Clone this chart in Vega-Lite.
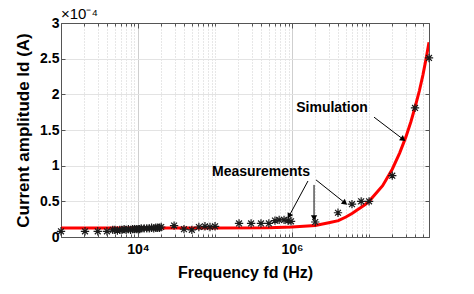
{
  "$schema": "https://vega.github.io/schema/vega-lite/v6.json",
  "width": 368,
  "height": 214,
  "autosize": {"type": "none"},
  "padding": {"left": 61, "top": 23, "right": 45, "bottom": 57},
  "background": "white",
  "title": {"text": "×10⁻⁴", "anchor": "start", "frame": "group", "fontSize": 15, "fontWeight": "normal", "font": "Liberation Sans", "offset": -6, "color": "black"},
  "config": {
    "view": {"stroke": null},
    "axis": {
      "labelFont": "Liberation Sans", "labelFontWeight": "bold", "labelFontSize": 14, "labelColor": "black",
      "titleFont": "Liberation Sans", "titleFontWeight": "bold", "titleFontSize": 16, "titleColor": "black",
      "domainColor": "#555555", "tickColor": "#555555", "labelOverlap": false, "labelBound": false, "labelFlush": false
    }
  },
  "datasets": {
    "sim": [
      {"f": 1000, "I": 1.25e-5}, {"f": 10000, "I": 1.25e-5}, {"f": 100000, "I": 1.26e-5},
      {"f": 500000, "I": 1.3e-5}, {"f": 1000000, "I": 1.4e-5}, {"f": 2000000, "I": 1.6e-5},
      {"f": 3000000, "I": 2.0e-5}, {"f": 4000000, "I": 2.3e-5}, {"f": 5000000, "I": 2.8e-5},
      {"f": 6000000, "I": 3.3e-5}, {"f": 7000000, "I": 3.8e-5}, {"f": 8000000, "I": 4.2e-5},
      {"f": 9000000, "I": 4.6e-5}, {"f": 10000000, "I": 5.0e-5}, {"f": 15000000, "I": 7.2e-5},
      {"f": 20000000, "I": 9.5e-5}, {"f": 25000000, "I": 1.18e-4}, {"f": 30000000, "I": 1.40e-4},
      {"f": 35000000, "I": 1.62e-4}, {"f": 40000000, "I": 1.84e-4}, {"f": 45000000, "I": 2.05e-4},
      {"f": 50000000, "I": 2.27e-4}, {"f": 55000000, "I": 2.5e-4}, {"f": 60000000, "I": 2.73e-4}
    ],
    "meas": [
      {"f": 1000, "I": 8e-6}, {"f": 2050, "I": 8e-6}, {"f": 3000, "I": 8e-6}, {"f": 3950, "I": 8e-6},
      {"f": 4700, "I": 1.0e-5}, {"f": 5000, "I": 1.0e-5}, {"f": 5400, "I": 9e-6}, {"f": 5800, "I": 1.0e-5},
      {"f": 6200, "I": 1.0e-5}, {"f": 6600, "I": 1.1e-5}, {"f": 7000, "I": 1.0e-5}, {"f": 7500, "I": 1.1e-5},
      {"f": 8000, "I": 1.0e-5}, {"f": 8500, "I": 1.1e-5}, {"f": 9000, "I": 1.1e-5}, {"f": 9500, "I": 1.1e-5},
      {"f": 10000, "I": 1.1e-5}, {"f": 10500, "I": 1.1e-5}, {"f": 11000, "I": 1.2e-5}, {"f": 12000, "I": 1.2e-5},
      {"f": 13000, "I": 1.2e-5}, {"f": 14000, "I": 1.2e-5}, {"f": 15000, "I": 1.3e-5}, {"f": 16000, "I": 1.2e-5},
      {"f": 17000, "I": 1.3e-5}, {"f": 18000, "I": 1.3e-5}, {"f": 19000, "I": 1.3e-5}, {"f": 20000, "I": 1.4e-5},
      {"f": 29400, "I": 1.6e-5}, {"f": 39500, "I": 1.1e-5}, {"f": 50000, "I": 1.0e-5}, {"f": 61700, "I": 1.4e-5},
      {"f": 74000, "I": 1.5e-5}, {"f": 86000, "I": 1.4e-5}, {"f": 100000, "I": 1.5e-5},
      {"f": 205000, "I": 1.9e-5}, {"f": 294000, "I": 1.9e-5}, {"f": 395000, "I": 1.9e-5}, {"f": 500000, "I": 1.9e-5},
      {"f": 600000, "I": 2.3e-5}, {"f": 680000, "I": 2.4e-5}, {"f": 787000, "I": 2.4e-5}, {"f": 887000, "I": 2.3e-5},
      {"f": 970000, "I": 2.2e-5}, {"f": 2000000, "I": 2.1e-5}, {"f": 3950000, "I": 3.4e-5}, {"f": 6000000, "I": 4.6e-5},
      {"f": 7900000, "I": 5.0e-5}, {"f": 10000000, "I": 5.0e-5}, {"f": 20000000, "I": 8.6e-5},
      {"f": 39500000, "I": 1.81e-4}, {"f": 60000000, "I": 2.51e-4}
    ],
    "labels": [
      {"label": "Simulation", "f": 3300000, "I": 1.81e-4},
      {"label": "Measurements", "f": 395000, "I": 0.91e-4}
    ],
    "arrows": [
      {"id": "sim", "f": 11600000, "I": 1.68e-4, "f2": 27700000, "I2": 1.37e-4},
      {"id": "m1", "f": 1610000, "I": 0.785e-4, "f2": 915000, "I2": 0.294e-4},
      {"id": "m2", "f": 1930000, "I": 0.73e-4, "f2": 1930000, "I2": 0.266e-4},
      {"id": "m3", "f": 2050000, "I": 0.80e-4, "f2": 4870000, "I2": 0.477e-4}
    ]
  },
  "resolve": {"axis": {"x": "independent", "y": "independent"}},
  "layer": [
    {
      "data": {"name": "sim"},
      "mark": {"type": "line", "color": "#ff0000", "strokeWidth": 3, "clip": true},
      "encoding": {
        "x": {"field": "f", "type": "quantitative",
          "scale": {"type": "log", "domain": [1000, 60000000], "nice": false},
          "axis": {
            "orient": "bottom", "title": "Frequency fd (Hz)",
            "titleX": 184, "titleAnchor": "middle", "titleAlign": "center",
            "values": [1000,2000,3000,4000,5000,6000,7000,8000,9000,10000,20000,30000,40000,50000,60000,70000,80000,90000,100000,200000,300000,400000,500000,600000,700000,800000,900000,1000000,2000000,3000000,4000000,5000000,6000000,7000000,8000000,9000000,10000000,20000000,30000000,40000000,50000000,60000000],
            "labelExpr": "datum.value == 10000 ? '10⁴' : datum.value == 1000000 ? '10⁶' : ''",
            "grid": true,
            "gridColor": "#cfcfcf",
            "gridDash": {"condition": {"test": "datum.value == 10000 || datum.value == 1000000", "value": []}, "value": [1, 2]},
            "tickSize": {"condition": {"test": "datum.value == 10000 || datum.value == 1000000", "value": -5}, "value": -3},
            "labelPadding": 10,
            "titlePadding": 6
          }
        },
        "y": {"field": "I", "type": "quantitative",
          "scale": {"domain": [0, 0.0003], "nice": false},
          "axis": {
            "orient": "left", "title": "Current amplitude Id (A)",
            "titleFontSize": 17,
            "values": [0, 0.00005, 0.0001, 0.00015, 0.0002, 0.00025, 0.0003],
            "labelExpr": "format(datum.value * 10000, '.1~f')",
            "grid": true, "gridColor": "#e3e3e3",
            "tickSize": -4, "labelPadding": 6, "titlePadding": 7
          }
        }
      }
    },
    {
      "data": {"name": "meas"},
      "mark": {"type": "point", "shape": "M0,-1L0,1M-1,0L1,0M-0.7,-0.7L0.7,0.7M-0.7,0.7L0.7,-0.7", "filled": false, "stroke": "#1a1a1a", "strokeWidth": 1.2, "size": 70, "opacity": 1},
      "encoding": {
        "x": {"field": "f", "type": "quantitative",
          "axis": {
            "orient": "top", "title": null, "labels": false, "grid": false,
            "values": [1000,2000,3000,4000,5000,6000,7000,8000,9000,10000,20000,30000,40000,50000,60000,70000,80000,90000,100000,200000,300000,400000,500000,600000,700000,800000,900000,1000000,2000000,3000000,4000000,5000000,6000000,7000000,8000000,9000000,10000000,20000000,30000000,40000000,50000000,60000000],
            "tickSize": {"condition": {"test": "datum.value == 10000 || datum.value == 1000000", "value": -5}, "value": -3}
          }
        },
        "y": {"field": "I", "type": "quantitative",
          "axis": {
            "orient": "right", "title": null, "labels": false, "grid": false,
            "values": [0, 0.00005, 0.0001, 0.00015, 0.0002, 0.00025, 0.0003],
            "tickSize": -4
          }
        }
      }
    },
    {
      "data": {"name": "arrows"},
      "mark": {"type": "rule", "color": "black", "strokeWidth": 1},
      "encoding": {
        "x": {"field": "f", "type": "quantitative", "axis": null},
        "y": {"field": "I", "type": "quantitative", "axis": null},
        "x2": {"field": "f2"},
        "y2": {"field": "I2"}
      }
    },
    {
      "data": {"name": "arrows"},
      "transform": [{"filter": "datum.id == 'sim'"}],
      "mark": {"type": "point", "shape": "triangle-up", "filled": true, "color": "black", "size": 40, "angle": 127, "opacity": 1},
      "encoding": {
        "x": {"field": "f2", "type": "quantitative", "axis": null},
        "y": {"field": "I2", "type": "quantitative", "axis": null}
      }
    },
    {
      "data": {"name": "arrows"},
      "transform": [{"filter": "datum.id == 'm1'"}],
      "mark": {"type": "point", "shape": "triangle-up", "filled": true, "color": "black", "size": 40, "angle": 208, "opacity": 1},
      "encoding": {
        "x": {"field": "f2", "type": "quantitative", "axis": null},
        "y": {"field": "I2", "type": "quantitative", "axis": null}
      }
    },
    {
      "data": {"name": "arrows"},
      "transform": [{"filter": "datum.id == 'm2'"}],
      "mark": {"type": "point", "shape": "triangle-up", "filled": true, "color": "black", "size": 40, "angle": 180, "opacity": 1},
      "encoding": {
        "x": {"field": "f2", "type": "quantitative", "axis": null},
        "y": {"field": "I2", "type": "quantitative", "axis": null}
      }
    },
    {
      "data": {"name": "arrows"},
      "transform": [{"filter": "datum.id == 'm3'"}],
      "mark": {"type": "point", "shape": "triangle-up", "filled": true, "color": "black", "size": 40, "angle": 128, "opacity": 1},
      "encoding": {
        "x": {"field": "f2", "type": "quantitative", "axis": null},
        "y": {"field": "I2", "type": "quantitative", "axis": null}
      }
    },
    {
      "data": {"name": "labels"},
      "mark": {"type": "text", "font": "Liberation Sans", "fontWeight": "bold", "fontSize": 14, "color": "black", "align": "center", "baseline": "middle"},
      "encoding": {
        "x": {"field": "f", "type": "quantitative", "axis": null},
        "y": {"field": "I", "type": "quantitative", "axis": null},
        "text": {"field": "label"}
      }
    }
  ]
}
